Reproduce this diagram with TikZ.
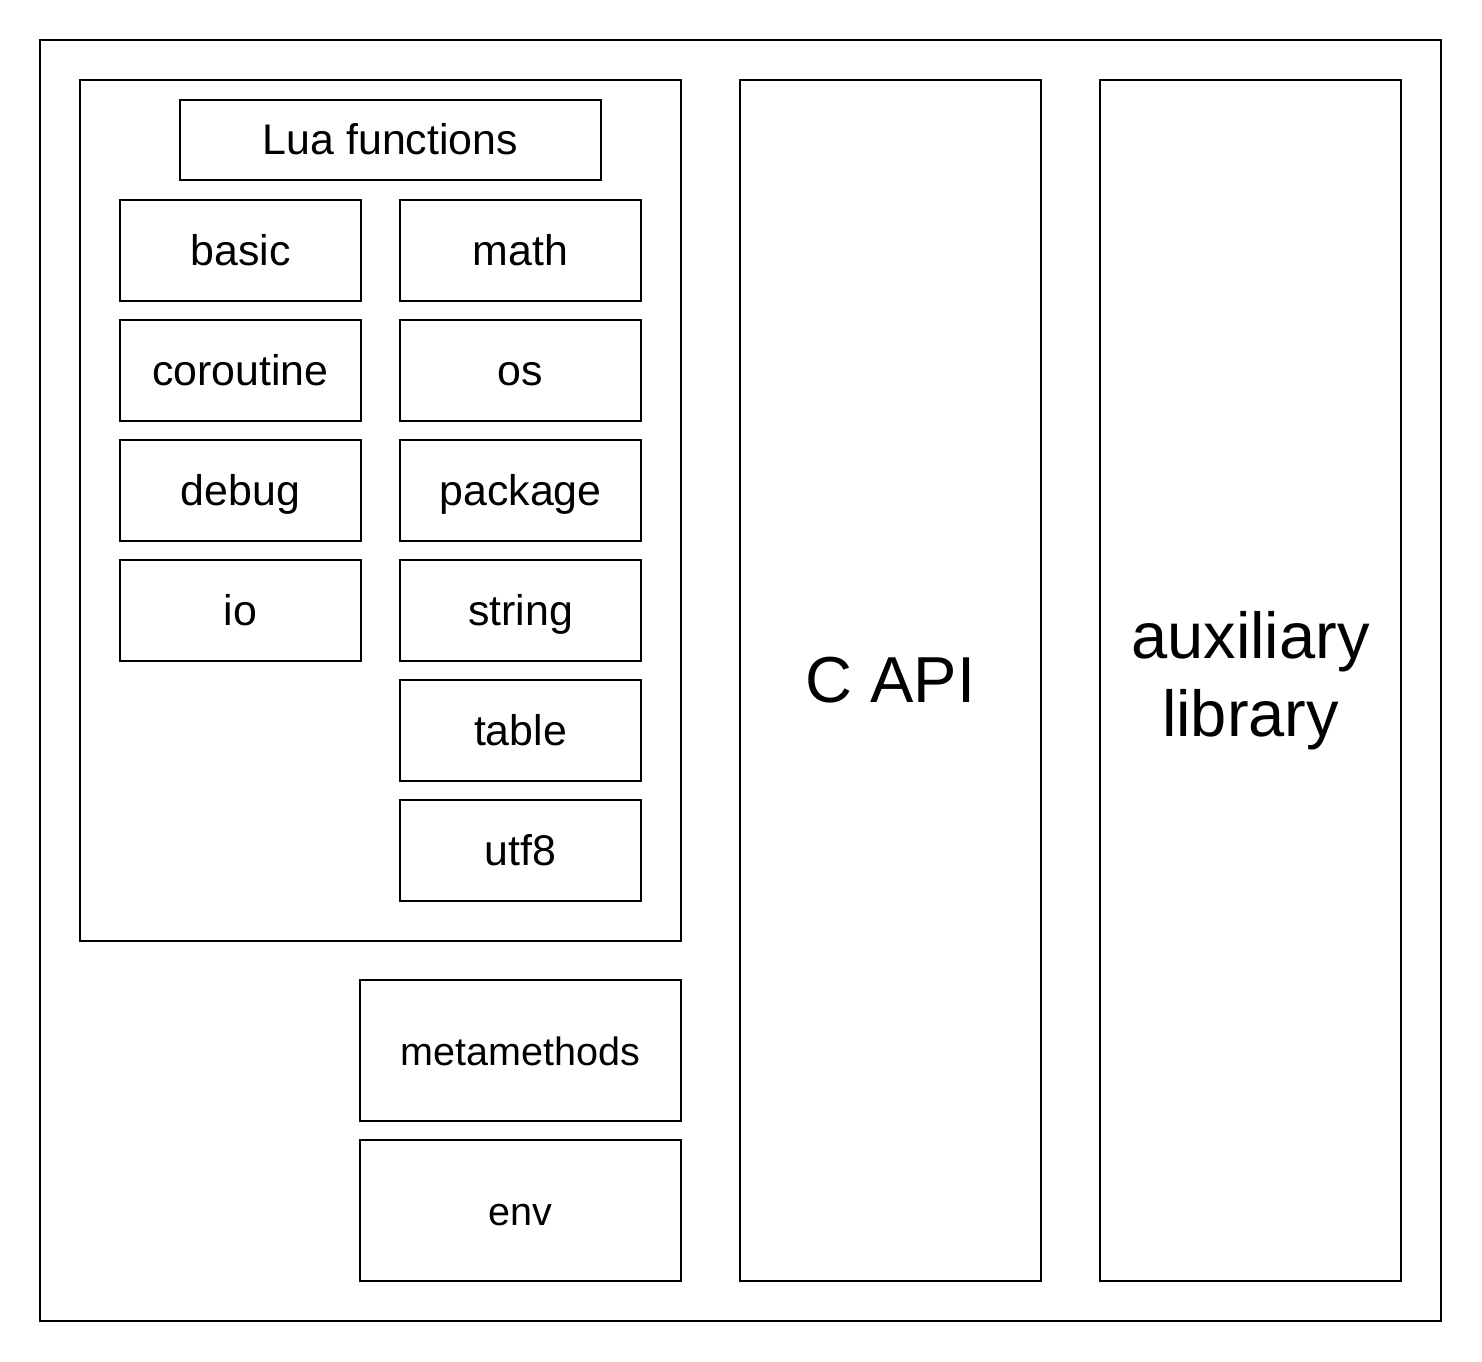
\documentclass[tikz,border=0pt]{standalone}
\usepackage{fontspec}
\setmainfont{Liberation Sans}
\usepackage{tikz}

\tikzset{
	frame/.style={draw=black, line width=1.1pt, inner sep=0pt},
	libbox/.style={frame, minimum width=4.82cm, minimum height=2.02cm, text height=17.5pt, text depth=0.5pt, font=\fontsize{24.4}{29}\selectfont},
	envbox/.style={frame, minimum width=6.42cm, minimum height=2.82cm, text height=17.5pt, text depth=0.5pt, font=\fontsize{22.5}{27}\selectfont},
	apibox/.style={frame, minimum width=6.02cm, minimum height=24.02cm, align=center, font=\fontsize{37}{44.4}\selectfont}
}

\begin{document}
\begin{tikzpicture}[x=0.02cm, y=-0.02cm]
	\useasboundingbox (0, 0) rectangle (1482, 1362);

	\node[frame, minimum width=28.02cm, minimum height=25.62cm] (outer) at (740.5, 680.5) {};
	\node[frame, minimum width=12.02cm, minimum height=17.22cm] (stdlib) at (380.5, 510.5) {};
	\node[frame, minimum width=8.42cm, minimum height=1.6cm, text height=17.5pt, text depth=0.5pt, font=\fontsize{24.4}{29}\selectfont] (luafun) at (390.5, 140) {Lua functions};

	\node[libbox] (basic)     at (240.5, 250.5) {basic};
	\node[libbox] (coroutine) at (240.5, 370.5) {coroutine};
	\node[libbox] (debug)     at (240.5, 490.5) {debug};
	\node[libbox] (io)        at (240.5, 610.5) {io};

	\node[libbox] (math)    at (520.5, 250.5) {math};
	\node[libbox] (os)      at (520.5, 370.5) {os};
	\node[libbox] (package) at (520.5, 490.5) {package};
	\node[libbox] (string)  at (520.5, 610.5) {string};
	\node[libbox] (table)   at (520.5, 730.5) {table};
	\node[libbox] (utf)     at (520.5, 850.5) {utf8};

	\node[envbox] (meta) at (520.5, 1050.5) {metamethods};
	\node[envbox] (env)  at (520.5, 1210.5) {env};

	\node[apibox] (capi)   at (890.5, 680.5)  {C API};
	\node[apibox] (auxlib) at (1250.5, 680.5) {auxiliary\\library};
\end{tikzpicture}
\end{document}
